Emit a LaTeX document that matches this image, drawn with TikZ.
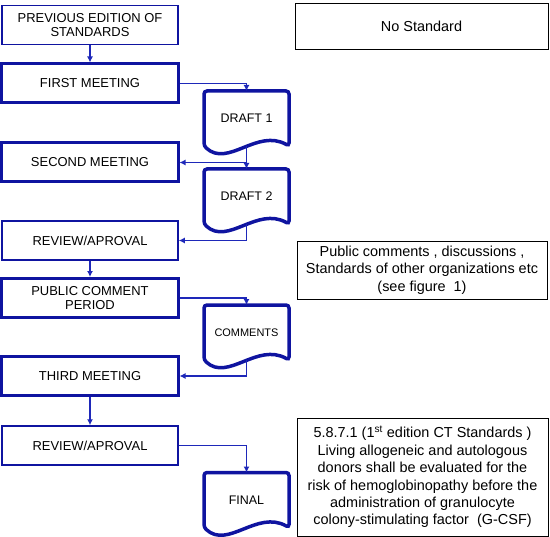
\documentclass[tikz,border=0pt]{standalone}
\usepackage{fontspec}
\setmainfont{Liberation Sans}
\usepackage{tikz}
\usetikzlibrary{arrows.meta}
\usetikzlibrary{positioning}
\usetikzlibrary{scopes}
\definecolor{boxblue}{RGB}{15,20,160}
\definecolor{lineblue}{RGB}{30,40,185}

\begin{document}
\begin{tikzpicture}
  [x=1bp, y=-1bp, >={Latex[length=6bp, width=6bp]},
   thinbox/.style={draw=boxblue, line width=1.5bp, inner sep=0pt,
         minimum width=176bp, minimum height=39bp, align=center,
         font=\fontsize{13}{14.5}\selectfont},
   thickbox/.style={thinbox, line width=3bp},
   doc/.style={inner sep=0pt, outer sep=2bp, minimum width=81bp,
         minimum height=51bp, align=center,
         font=\fontsize{12.5}{14}\selectfont},
   docline/.style={draw=boxblue, line width=3.5bp, rounded corners=3bp},
   note/.style={draw=black, line width=1bp, inner sep=0pt, align=center,
         font=\fontsize{14.5}{17.5}\selectfont}
  ]
  \useasboundingbox (0, 0) rectangle (550, 537);
 \path
   (90, 25) node (prev) [thinbox] {PREVIOUS EDITION OF\\STANDARDS}
  ++(0, 58.5) node (first) [thickbox] {FIRST MEETING}
  ++(0, 79)   node (second) [thickbox] {SECOND MEETING}
  ++(0, 78)   node (review) [thinbox] {REVIEW/APROVAL}
  ++(0, 57.5) node (public) [thickbox] {PUBLIC COMMENT\\PERIOD}
  ++(0, 78)   node (third) [thickbox] {THIRD MEETING}
  ++(0, 69.5) node (review2) [thinbox] {REVIEW/APROVAL}
   ;
 \path
   (246.5, 118.5) node (d1) [doc] {DRAFT 1}
  ++(0, 78)   node (d2) [doc] {DRAFT 2}
  ++(0, 136)  node (com) [doc, font=\fontsize{11}{13}\selectfont] {COMMENTS}
  ++(0, 167.5) node (fin) [doc] {FINAL}
   ;
  \foreach \d in {d1, d2, com, fin}
   \draw [docline] (\d.north west) -- (\d.north east) -- (\d.south east)
     .. controls +(-32, -18) and +(24, 22) .. (\d.south west) -- cycle;

  \node (nostd) [note, minimum width=253bp, minimum height=46bp]
     at (421.5, 26.5) {No Standard};
  \node (others) [note, minimum width=250bp, minimum height=58bp]
     at (422, 270) {Public comments , discussions ,\\Standards of other organizations etc\\(see figure\ \ 1)};
  \node (ctstd) [note, minimum width=251bp, minimum height=118bp]
     at (422.5, 477) {5.8.7.1 (1\textsuperscript{st} edition CT Standards )\\Living allogeneic and autologous\\donors shall be evaluated for the\\risk of hemoglobinopathy before the\\administration of granulocyte\\colony-stimulating factor\ \ (G-CSF)};

   \begin{scope}[line width=1.2bp, lineblue]
   \draw [->] (prev) to (first);
   \draw [->] (first) -| (d1);
   \draw [->] (d1) to (d2);
   \draw [->] (d1.south) |- (second);
   \draw [->] (d2.south) |- (review);
   \draw [->] (review) to (public);
   \draw [->] (public) -| (com);
   \draw [->] (com.south) |- (third);
   \draw [->] (third) to (review2);
   \draw [->] (review2) -| (fin);
   \end{scope}

\end{tikzpicture}
\end{document}
